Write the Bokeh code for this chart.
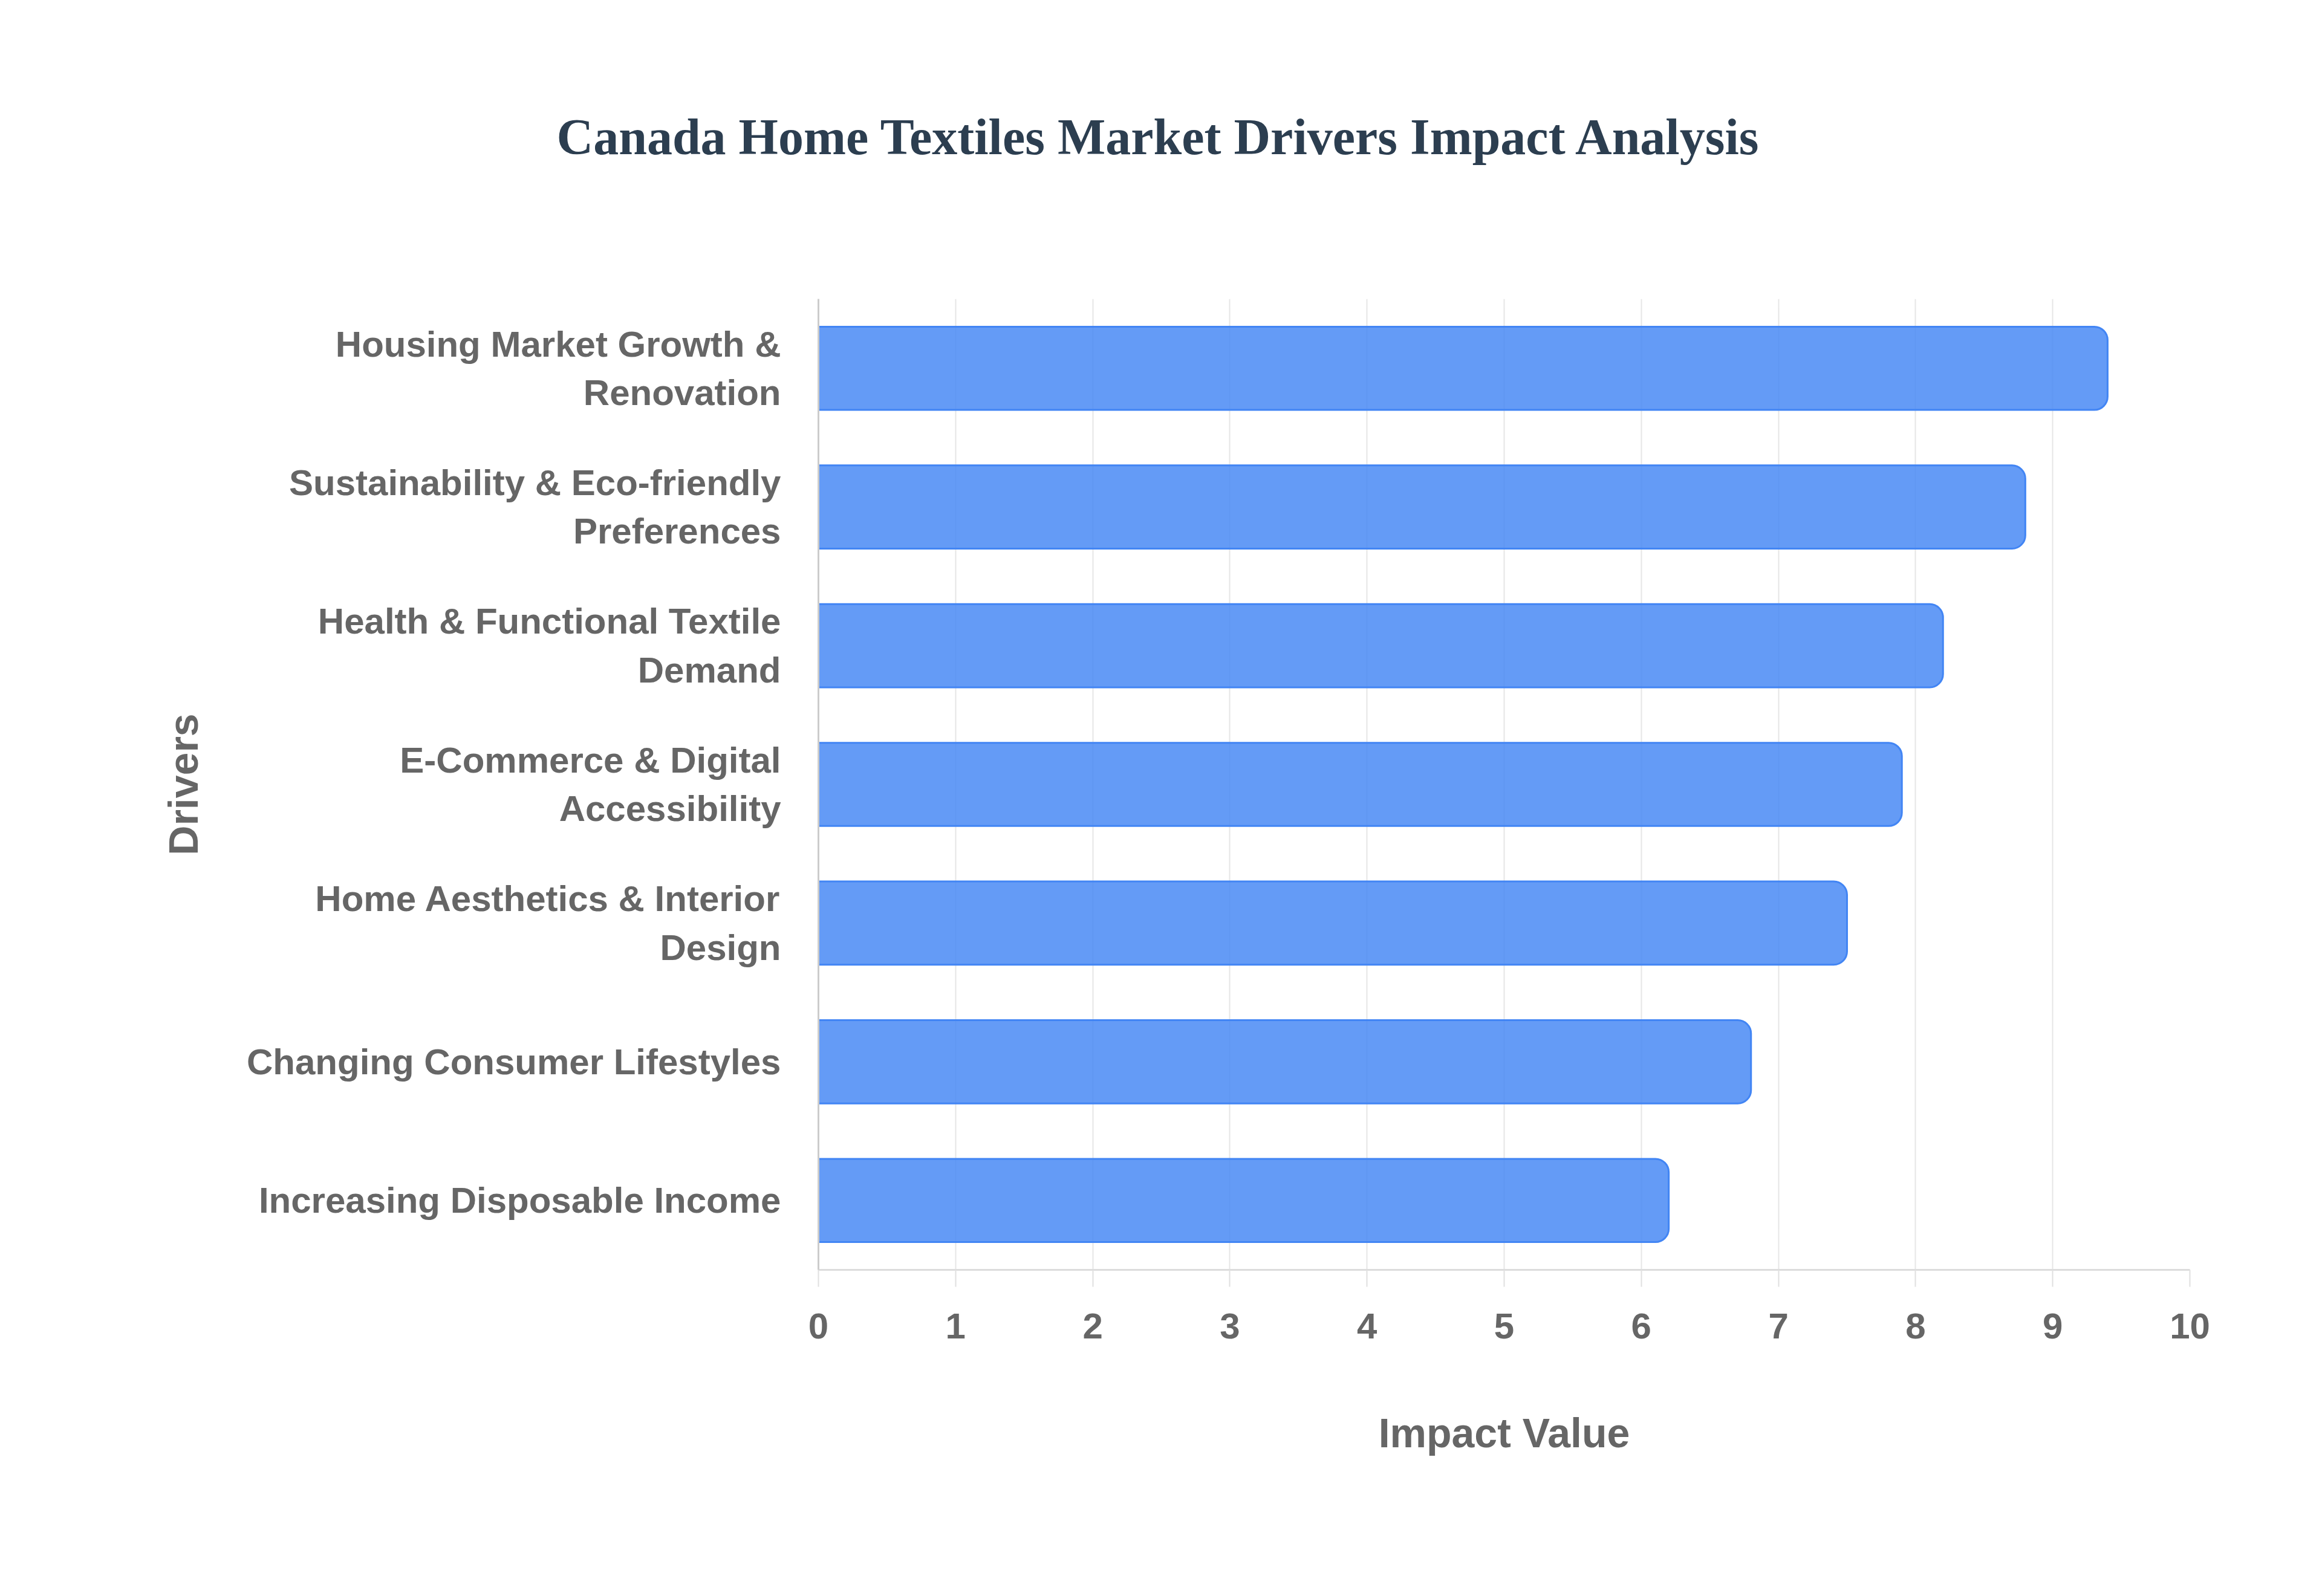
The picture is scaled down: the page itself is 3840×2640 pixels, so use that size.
from bokeh.plotting import figure
from bokeh.models import FixedTicker, Range1d, FactorRange
from bokeh.embed import file_html
from bokeh.resources import INLINE

# ---- data (top to bottom as shown) ----
drivers = [
    "Housing Market Growth &\nRenovation",
    "Sustainability & Eco-friendly\nPreferences",
    "Health & Functional Textile\nDemand",
    "E-Commerce & Digital\nAccessibility",
    "Home Aesthetics & Interior\nDesign",
    "Changing Consumer Lifestyles",
    "Increasing Disposable Income",
]
impact = [9.4, 8.8, 8.2, 7.9, 7.5, 6.8, 6.2]
x_ticks = [0, 1, 2, 3, 4, 5, 6, 7, 8, 9, 10]
title_text = "Canada Home Textiles Market Drivers Impact Analysis"
x_title = "Impact Value"
y_title = "Drivers"

factors = list(reversed(drivers))

p = figure(
    width=3824, height=2624,
    y_range=FactorRange(factors=factors, range_padding=0),
    x_range=Range1d(0, 10),
    output_backend="svg", toolbar_location=None,
    min_border_left=1353, min_border_right=203,
    min_border_top=494, min_border_bottom=524,
)
p.outline_line_color = None
p.background_fill_color = "white"
p.border_fill_color = "white"

# title (trailing empty line only reserves room so the title sits higher)
p.title.text = title_text + "\n"
p.title.align = "left"
p.title.vertical_align = "top"
p.title.offset = -433
p.title.standoff = 254
p.title.text_font = "Liberation Serif"
p.title.text_font_style = "bold"
p.title.text_font_size = "84px"
p.title.text_color = "#2c3e50"

p.hbar(y=drivers, right=impact, left=0, height=0.6,
       fill_color="#4285f4", fill_alpha=0.82,
       line_color="#4285f4", line_width=3,
       border_radius=(0, 22, 22, 0))

# grid
p.ygrid.visible = False
p.xgrid.grid_line_color = "#e6e6e6"
p.xgrid.grid_line_width = 2

# x axis
xa = p.xaxis[0]
xa.ticker = FixedTicker(ticks=x_ticks)
xa.minor_tick_line_color = None
xa.major_tick_in = 0
xa.major_tick_out = 28
xa.major_tick_line_color = "#e0e0e0"
xa.major_tick_line_width = 2
xa.axis_line_color = "#dcdcdc"
xa.axis_line_width = 3
xa.major_label_text_font = "Liberation Sans"
xa.major_label_text_font_style = "bold"
xa.major_label_text_font_size = "60px"
xa.major_label_text_color = "#666666"
xa.major_label_standoff = 44
xa.axis_label = x_title
xa.axis_label_text_font = "Liberation Sans"
xa.axis_label_text_font_style = "bold"
xa.axis_label_text_font_size = "68px"
xa.axis_label_text_color = "#666666"
xa.axis_label_standoff = 115

# y axis
ya = p.yaxis[0]
ya.major_tick_in = 0
ya.major_tick_out = 0
ya.minor_tick_line_color = None
ya.axis_line_color = "#cccccc"
ya.axis_line_width = 3
ya.major_label_text_font = "Liberation Sans"
ya.major_label_text_font_style = "bold"
ya.major_label_text_font_size = "60px"
ya.major_label_text_color = "#666666"
ya.major_label_standoff = 62
ya.axis_label = y_title
ya.axis_label_text_font = "Liberation Sans"
ya.axis_label_text_font_style = "bold"
ya.axis_label_text_font_size = "68px"
ya.axis_label_text_color = "#666666"
ya.axis_label_standoff = 64

open("out.html", "w").write(file_html(p, INLINE))
